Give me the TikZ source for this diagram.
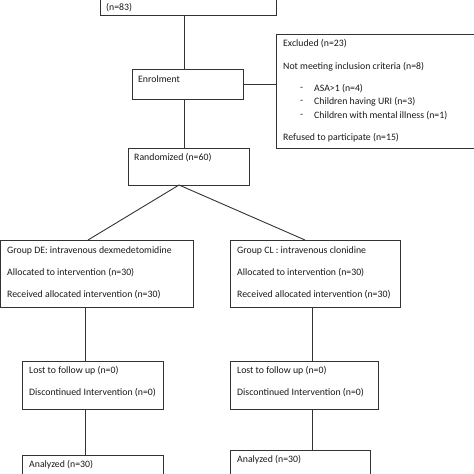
\documentclass[tikz,border=0pt]{standalone}
\usepackage{fontspec}
\setmainfont{Carlito}
\begin{document}
\begin{tikzpicture}[x=1pt,y=-1pt,
  box/.style={draw=black!80,line width=0.9pt,minimum width=#1,anchor=north west,inner sep=0pt},
  txt/.style={anchor=west,inner sep=0pt,font=\fontsize{9.8}{11}\selectfont,text=black!90},
  link/.style={draw=black!80,line width=0.9pt}]
\useasboundingbox (0,0) rectangle (474,474);
\clip (0,0) rectangle (474,474);
% boxes
\node[box=176,minimum height=45] (top) at (100,-30) {};
\node[box=111,minimum height=30] (enrol) at (132,69) {};
\node[box=210,minimum height=114] (excl) at (276,34) {};
\node[box=121,minimum height=37] (rand) at (128,148) {};
\node[box=193,minimum height=67] (de) at (0,240) {};
\node[box=170,minimum height=67] (cl) at (230,240) {};
\node[box=141,minimum height=48] (lostde) at (22,361) {};
\node[box=148,minimum height=48] (lostcl) at (230,361) {};
\node[box=141,minimum height=40] (anade) at (22,455) {};
\node[box=140,minimum height=40] (anacl) at (230,450) {};
% texts
\node[txt] (t83) at (106,8) {(n=83)};
\node[txt] (tenr) at (138,79) {Enrolment};
\node[txt] (tex1) at (283,44) {Excluded (n=23)};
\node[txt] (tex2) at (283,67) {Not meeting inclusion criteria (n=8)};
\node[txt] (td1) at (300,89) {-};
\node[txt] (tex3) at (314,89) {ASA>1 (n=4)};
\node[txt] (td2) at (300,102) {-};
\node[txt] (tex4) at (314,102) {Children having URI (n=3)};
\node[txt] (td3) at (300,116) {-};
\node[txt] (tex5) at (314,116) {Children with mental illness (n=1)};
\node[txt] (tex6) at (283,138) {Refused to participate (n=15)};
\node[txt] (trand) at (134,158) {Randomized (n=60)};
\node[txt] (tde1) at (7,251) {Group DE: intravenous dexmedetomidine};
\node[txt] (tde2) at (7,273) {Allocated to intervention (n=30)};
\node[txt] (tde3) at (7,295) {Received allocated intervention (n=30)};
\node[txt] (tcl1) at (237,251) {Group CL : intravenous clonidine};
\node[txt] (tcl2) at (237,273) {Allocated to intervention (n=30)};
\node[txt] (tcl3) at (237,295) {Received allocated intervention (n=30)};
\node[txt] (tlde1) at (29,371) {Lost to follow up (n=0)};
\node[txt] (tlde2) at (29,393) {Discontinued Intervention (n=0)};
\node[txt] (tlcl1) at (237,371) {Lost to follow up (n=0)};
\node[txt] (tlcl2) at (237,393) {Discontinued Intervention (n=0)};
\node[txt] (tade) at (29,465) {Analyzed (n=30)};
\node[txt] (tacl) at (237,460) {Analyzed (n=30)};
% connector anchors
\coordinate (xmain) at (184,0);
\coordinate (rsplit) at (179,185);
\coordinate (dein) at (88,0);
\coordinate (clin) at (305,0);
\coordinate (xde) at (85,0);
\coordinate (xcl) at (312,0);
% connectors
\draw[link] (top.south -| xmain) -- (enrol.north -| xmain);
\draw[link] (enrol.south -| xmain) -- (rand.north -| xmain);
\draw[link] (enrol.east) -- (excl.west |- enrol.east);
\draw[link] (rsplit) -- (de.north -| dein);
\draw[link] (rsplit) -- (cl.north -| clin);
\draw[link] (de.south -| xde) -- (lostde.north -| xde);
\draw[link] (lostde.south -| xde) -- (anade.north -| xde);
\draw[link] (cl.south -| xcl) -- (lostcl.north -| xcl);
\draw[link] (lostcl.south -| xcl) -- (anacl.north -| xcl);
\end{tikzpicture}
\end{document}
